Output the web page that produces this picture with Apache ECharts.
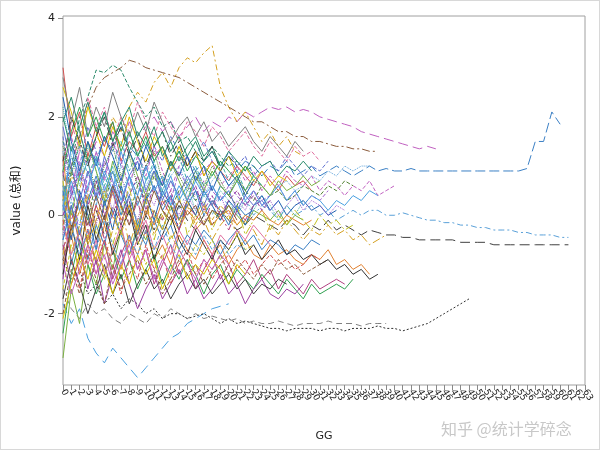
<!DOCTYPE html>
<html>
<head>
<meta charset="utf-8">
<script src="https://cdn.jsdelivr.net/npm/echarts@6/dist/echarts.min.js"></script>
<style>
  html, body { margin: 0; padding: 0; background: #fff; }
  #chart { width: 598px; height: 448px; border: 1px solid #d8d8d8; }
</style>
</head>
<body>
<div id="chart"></div>
<script>
// GG categories 0..63
const categories = Array.from({ length: 64 }, (_, i) => String(i))
const yTicks = [-2, 0, 2, 4]

// 各線の値 (画像から目測)
const s01 = [0.4,1.2,0.8,1.5,1.1,1.6,1.3,1.8,1.4,1.2,1.5,1.1,1.4,1.0,1.3,1.2,0.9,1.1,1.3,1.0,1.2,0.9,1.1,1.0,0.8,1.0,0.9,1.1,0.8,0.9,1.0,0.8,0.9,1.0,0.9,0.8,0.9,1.0,0.9,0.95,0.9,0.9,0.95,0.9,0.9,0.9,0.9,0.9,0.9,0.9,0.9,0.9,0.9,0.9,0.9,0.9,0.95,1.5,1.5,2.1,1.85]
const s02 = [-0.5,0.3,-0.2,0.6,0.2,0.8,0.4,0.1,0.5,0.7,0.3,0.6,0.2,0.4,0.1,0.5,0.3,0.2,0.0,0.4,0.2,0.1,0.3,0.0,0.2,0.1,-0.1,0.2,0.0,0.1,0.2,0.0,0.1,-0.1,0.0,0.1,0.0,0.1,0.1,0.0,0.0,0.05,0.0,-0.05,-0.1,-0.1,-0.15,-0.15,-0.2,-0.2,-0.25,-0.25,-0.3,-0.3,-0.3,-0.35,-0.35,-0.4,-0.4,-0.4,-0.45,-0.45]
const s03 = [0.9,-0.3,0.4,-0.6,0.1,-0.4,0.2,-0.2,0.3,-0.5,0.0,-0.3,0.1,-0.2,0.2,-0.1,-0.3,0.0,-0.2,0.1,-0.1,-0.3,-0.2,0.0,-0.1,-0.2,-0.3,-0.1,-0.2,-0.4,-0.2,-0.3,-0.1,-0.3,-0.2,-0.3,-0.4,-0.3,-0.35,-0.4,-0.4,-0.45,-0.45,-0.5,-0.5,-0.5,-0.5,-0.5,-0.55,-0.55,-0.55,-0.55,-0.6,-0.6,-0.6,-0.6,-0.6,-0.6,-0.6,-0.6,-0.6,-0.6]
const s04 = [1.1,0.5,1.3,1.0,1.5,1.2,1.7,1.4,1.9,1.6,1.8,2.0,1.7,1.9,1.6,1.8,2.0,1.7,1.9,1.8,2.0,1.9,2.1,2.0,2.1,2.2,2.15,2.2,2.1,2.15,2.1,2.0,1.95,1.9,1.85,1.8,1.7,1.65,1.6,1.55,1.5,1.45,1.4,1.35,1.4,1.35]
const s05 = [-0.2,0.8,0.5,1.2,1.6,1.4,2.0,1.7,2.2,2.5,2.3,2.7,2.9,2.6,3.0,3.2,3.1,3.3,3.45,2.6,2.2,1.9,2.1,1.8,1.5,1.7,1.4,1.6,1.3,1.2]
const s06 = [1.5,0.9,2.0,2.4,2.95,2.9,3.05,2.95,2.6,2.3,2.0,2.2,1.8,1.9,1.5,1.6,1.3,1.1,1.4,1.2,1.0,1.1,0.9,1.0,0.8]
const s07 = [0.3,1.0,1.6,2.2,2.6,2.8,2.9,3.0,3.15,3.1,3.0,2.95,2.9,2.85,2.8,2.7,2.6,2.5,2.4,2.3,2.2,2.1,2.0,1.9,1.9,1.8,1.7,1.7,1.6,1.6,1.5,1.5,1.45,1.4,1.4,1.35,1.35,1.3,1.3]
const s08 = [-1.8,-2.2,-1.9,-2.5,-2.8,-3.0,-2.7,-2.9,-3.1,-3.3,-3.1,-2.9,-2.7,-2.5,-2.4,-2.2,-2.1,-2.0,-1.9,-1.85,-1.8]
const s09 = [-0.9,-1.3,-1.1,-1.6,-1.4,-1.8,-1.6,-1.9,-1.7,-1.8,-2.0,-1.9,-2.1,-2.0,-2.0,-2.1,-2.05,-2.0,-2.1,-2.2,-2.1,-2.2,-2.15,-2.2,-2.25,-2.3,-2.3,-2.35,-2.3,-2.3,-2.3,-2.35,-2.3,-2.3,-2.35,-2.3,-2.3,-2.3,-2.25,-2.3,-2.3,-2.35,-2.3,-2.25,-2.2,-2.1,-2.0,-1.9,-1.8,-1.7]
const s10 = [-1.5,-1.9,-2.1,-1.8,-2.0,-1.9,-2.1,-2.2,-2.0,-2.1,-2.2,-2.0,-2.1,-1.9,-2.0,-2.1,-2.0,-2.1,-2.05,-2.1,-2.15,-2.1,-2.2,-2.15,-2.2,-2.2,-2.15,-2.2,-2.25,-2.2,-2.2,-2.2,-2.15,-2.2,-2.2,-2.2,-2.25,-2.2,-2.2,-2.2]
const s11 = [3.0,1.6,2.1,1.2,1.8,1.4,1.9,1.1,1.5,1.3,1.7,1.2,1.4,0.9,1.2,1.0,1.3,0.8,1.1,0.9,0.7,1.0,0.8,0.6,0.9,0.7,0.5,0.8,0.6,0.7,0.5]
const s12 = [-2.9,-1.5,-2.2,-1.0,-1.4,-0.6,-1.1,-0.3,-0.8,-0.2,-0.5,0.1,-0.3,0.2,-0.1,0.3,0.0,-0.2,0.1,-0.1,0.2,0.0,-0.2,0.1,0.0,-0.1,0.1,-0.2,0.0,-0.1]
const s13 = [0.0,0.6,-0.4,0.9,0.3,1.1,0.6,0.2,0.8,0.4,1.0,0.5,0.7,0.3,0.9,0.6,0.4,0.7,0.5,0.3,0.6,0.4,0.2,0.5,0.3,0.4,0.6,0.3,0.5,0.2,0.4,0.3,0.5]
const s14 = [-1.0,-0.4,-1.2,-0.6,-0.9,-0.2,-0.7,-1.1,-0.5,-0.8,-0.3,-0.9,-0.6,-1.0,-0.4,-0.7,-0.9,-0.5,-0.8,-0.6,-1.0,-0.7,-0.5,-0.8,-0.9,-0.6,-0.8,-0.7,-0.9,-1.0,-0.8,-0.9,-0.7,-1.0,-0.9,-1.1,-1.0,-1.2]
const s15 = [2.2,1.2,0.6,1.4,0.9,0.4,1.0,0.5,0.8,0.2,0.6,0.9,0.4,0.7,0.3,0.6,0.1,0.4,0.2,0.5,0.3,0.0,0.3,0.1,0.4,0.2,-0.1,0.2,0.0,0.3]
const s16 = [-0.6,-1.4,-0.9,-0.3,-1.0,-0.5,-1.3,-0.8,-0.4,-1.1,-0.7,-1.4,-1.0,-0.6,-1.2,-0.9,-1.5,-1.1,-0.8,-1.3,-1.0,-1.4,-1.2,-0.9,-1.3,-1.1,-1.5,-1.2,-1.4,-1.6,-1.3,-1.5,-1.4,-1.3,-1.4]
const s17 = [1.6,0.4,1.0,1.8,1.3,0.8,1.5,1.0,1.7,1.2,0.9,1.4,1.1,1.6,1.3,1.0,1.2,1.5,1.1,0.9,1.3,1.0,1.2,0.8,1.0,1.1,0.9,1.2,1.0,0.8,1.0,0.9,1.1]
const s18 = [0.7,-0.8,-0.2,0.5,-0.4,0.2,-0.6,0.0,0.6,-0.3,0.3,-0.5,0.1,-0.2,0.4,-0.4,0.0,0.3,-0.3,0.1,-0.1,0.2,-0.4,-0.1,0.1,-0.3,0.0,-0.2,0.1,-0.1,-0.3,0.0,-0.2,-0.1,-0.3,-0.2]
const s19 = [-2.4,-1.2,-0.5,-1.0,-1.6,-1.2,-0.7,-1.3,-0.9,-1.5,-1.1,-0.8,-1.4,-1.0,-1.3,-0.9,-1.2,-1.6,-1.2,-1.0,-1.4,-1.1,-1.3,-1.5,-1.2,-1.4,-1.6,-1.3,-1.5,-1.7,-1.4,-1.6,-1.5,-1.4,-1.5,-1.3]
const s20 = [1.0,1.9,1.3,2.4,1.8,2.2,1.5,2.0,1.7,2.3,1.9,1.6,2.1,1.8,1.5,1.9,1.7,1.4,1.8,1.6,1.3,1.5,1.7,1.4,1.2,1.5,1.3,1.1,1.4,1.2,1.3,1.1]
const s21 = [0.2,-0.5,0.5,0.0,-0.7,0.3,-0.3,0.6,0.1,-0.4,0.4,-0.1,0.5,0.2,-0.3,0.3,0.0,0.5,0.2,-0.1,0.3,0.1,-0.2,0.2,0.4,0.1,0.3,0.0,0.2,0.3,0.1,0.2,0.0,0.1]
const s22 = [-1.3,0.2,-0.6,-1.5,-0.9,-1.8,-1.2,-0.7,-1.4,-1.9,-1.5,-1.2,-1.7,-1.4,-1.1,-1.6,-1.3,-1.7,-1.5,-1.2,-1.6,-1.4,-1.8,-1.5,-1.3,-1.6,-1.7,-1.5,-1.6,-1.4]
const s23 = [2.6,2.1,1.4,2.2,1.7,1.2,1.8,1.4,2.0,1.5,1.1,1.6,1.3,0.9,1.4,1.0,1.3,0.8,1.1,0.9,1.2,0.8,1.0,0.7,0.9,0.6,0.8,0.7]
const s24 = [-0.3,0.9,0.4,-0.1,0.7,0.2,0.9,0.5,0.0,0.6,0.3,0.8,0.4,0.1,0.5,0.7,0.3,0.5,0.2,0.6,0.4,0.2,0.5,0.3,0.6,0.4,0.5,0.3,0.4,0.6,0.5,0.4,0.6,0.5,0.7,0.6]
const s25 = [0.5,-1.0,-0.3,-0.9,-0.2,-0.6,0.1,-0.4,-0.8,-0.3,-0.6,-0.1,-0.5,-0.2,-0.7,-0.4,-0.6,-0.3,-0.5,-0.8,-0.5,-0.3,-0.6,-0.4,-0.7,-0.5,-0.6,-0.8,-0.6,-0.7,-0.5,-0.6]
const s26 = [1.3,0.3,0.9,0.5,1.2,0.8,0.4,1.0,0.6,1.1,0.7,0.9,0.5,0.8,1.0,0.6,0.8,0.4,0.7,0.9,0.6,0.7,0.5,0.8,0.6,0.4,0.6,0.7,0.5,0.6,0.8,0.7,0.9,0.8,1.0,0.9,1.0,1.0]
const s27 = [-1.7,-0.9,-1.4,-2.0,-1.5,-1.0,-1.6,-1.2,-1.8,-1.4,-1.1,-1.5,-1.3,-1.7,-1.4,-1.2,-1.5,-1.3,-1.6,-1.4,-1.2,-1.5,-1.3,-1.6,-1.4,-1.5,-1.3,-1.4]
const s28 = [0.8,1.6,1.0,0.5,1.3,0.7,1.5,1.1,0.6,1.2,0.8,1.4,0.9,0.5,1.0,1.2,0.7,0.9,1.1,0.6,0.8,1.0,0.7,0.9,0.5,0.8,0.6,0.9,0.7,0.6,0.8,0.5,0.7,0.6,0.4,0.6,0.5,0.7,0.4,0.5,0.6]
const s29 = [-0.8,0.1,-0.5,0.4,-0.2,-0.9,-0.3,0.2,-0.6,-0.1,0.3,-0.4,0.0,-0.5,-0.2,0.2,-0.3,-0.1,-0.5,-0.2,0.0,-0.4,-0.1,-0.3,-0.6,-0.2,-0.4,-0.1,-0.3,-0.5,-0.3,-0.4,-0.2,-0.4,-0.3,-0.5,-0.4,-0.6,-0.5,-0.4]
const s30 = [1.9,2.4,1.7,1.1,1.6,2.1,1.5,1.9,1.3,1.7,1.4,1.8,1.2,1.5,1.1,1.4,1.6,1.2,1.4,1.0,1.3,1.1,0.9,1.2,1.0,1.1,0.8,1.0,0.9,1.1,0.9]
const s31 = [-2.0,-1.1,-1.6,-0.8,-1.3,-1.8,-1.0,-1.5,-1.2,-0.9,-1.4,-1.1,-1.6,-1.3,-0.9,-1.2,-1.0,-1.4,-1.1,-0.8,-1.2,-0.9,-1.1,-1.3,-1.0,-1.2,-0.9,-1.1,-1.0,-1.2,-1.1,-1.0,-0.9]
const s32 = [0.1,1.4,0.7,1.1,0.3,0.9,0.5,1.3,0.8,0.2,0.7,1.0,0.4,0.8,0.3,0.6,0.9,0.5,0.2,0.6,0.4,0.7,0.3,0.5,0.2,0.4,0.6,0.3,0.5,0.2,0.4,0.3,0.1,0.3,0.2,0.4,0.3,0.5,0.4]
const s33 = [-1.2,-0.2,-0.9,0.2,-0.5,0.0,-0.8,-0.3,0.1,-0.6,-0.2,-0.9,-0.4,0.0,-0.5,-0.8,-0.3,-0.6,-0.9,-0.5,-0.7,-0.4,-0.8,-0.6,-0.9,-0.7,-0.5,-0.8,-0.7,-0.9,-0.8,-1.0,-0.9,-1.1,-1.0,-1.2,-1.1,-1.3,-1.2]
const s34 = [2.8,1.9,2.6,1.6,2.2,1.8,2.5,2.0,1.6,2.1,1.7,2.3,1.9,1.5,1.8,2.0,1.6,1.9,1.5,1.7,1.4,1.6,1.8,1.5,1.3,1.6,1.4,1.2,1.5,1.3]
const s35 = [-0.1,-0.9,-1.5,-0.7,-1.2,-0.5,-1.0,-1.6,-0.9,-1.3,-0.6,-1.1,-0.8,-1.4,-1.0,-0.7,-1.2,-0.9,-1.3,-1.0,-0.8,-1.1,-0.9,-1.2,-1.0,-0.8,-1.0,-0.9,-1.1,-1.0,-0.8,-0.9]
const s36 = [0.6,0.0,0.8,1.5,0.9,0.3,1.1,0.6,1.3,0.8,0.4,0.9,0.6,1.1,0.7,0.3,0.8,0.5,0.9,0.6,0.4,0.7,0.5,0.8,0.6,0.4,0.7,0.5,0.6,0.8,0.6,0.7]
const s37 = [-0.4,0.5,1.1,0.4,-0.2,0.6,0.1,0.8,0.3,-0.1,0.5,0.2,0.7,0.3,0.0,0.4,0.1,0.6,0.2,0.4,0.0,0.3,0.1,0.5,0.2,0.3,0.0,0.2,0.4,0.1,0.3,0.2,0.0,0.2,0.1]
const s38 = [1.2,-0.3,0.3,-0.5,0.2,-0.2,0.5,-0.1,0.2,-0.4,0.1,-0.2,0.3,0.0,-0.3,0.1,-0.1,0.2,-0.2,0.0,0.1,-0.2,0.0,-0.1,0.1,-0.1,-0.2,0.0,-0.1,-0.2,-0.1]
const s39 = [0.3,0.9,1.4,0.8,1.2,0.6,1.0,1.5,0.9,1.3,0.7,1.1,0.5,0.9,1.2,0.7,1.0,0.6,0.8,1.1,0.7,0.9,0.5,0.8,0.6]
const s40 = [-0.7,-0.1,0.4,-0.3,0.2,-0.5,0.0,0.5,-0.2,0.3,-0.4,0.1,-0.1,0.4,-0.3,0.2,0.0,-0.2,0.3,0.0,-0.3,0.1,-0.1,0.2]
const s41 = [1.8,1.0,0.3,0.9,0.4,1.2,0.7,0.2,0.8,1.1,0.5,0.9,0.3,0.7,0.4,0.8,0.5,0.2,0.6,0.3,0.5,0.1,0.4,0.2,0.3,0.1,0.3]
const s42 = [-1.5,-0.6,-1.0,-0.4,-0.9,-1.3,-0.7,-0.3,-0.8,-0.5,-1.0,-0.6,-0.9,-0.4,-0.7,-1.0,-0.6,-0.8,-0.5,-0.9,-0.7,-0.4,-0.7,-0.6]
const s43 = [0.9,1.7,2.2,1.6,2.0,1.5,1.9,1.3,1.7,1.2,1.6,1.1,1.4,1.0,1.3,0.9,1.2,1.0,0.8,1.1,0.9,0.7,1.0,0.8]
const s44 = [-0.2,-0.8,-0.3,-1.0,-0.5,-1.2,-0.7,-0.2,-0.9,-0.5,-0.1,-0.7,-0.4,-0.8,-0.3,-0.6,-0.2,-0.5,-0.8,-0.4,-0.6,-0.3,-0.5,-0.2,-0.4,-0.6]
const s45 = [2.4,1.5,0.9,1.5,1.0,1.6,1.2,0.7,1.3,0.9,1.4,1.0,0.6,1.1,0.8,1.2,0.7,1.0,0.5,0.9,0.6,0.8,0.4,0.7]
const s46 = [0.0,0.4,0.9,0.2,0.7,0.0,0.5,-0.2,0.4,0.8,0.1,0.6,0.2,0.5,-0.1,0.3,0.6,0.1,0.4,0.0,0.3,0.5,0.2,0.4,0.1,0.3]
const s47 = [-2.1,-1.4,-0.8,-1.3,-0.7,-1.1,-1.6,-1.0,-1.4,-0.8,-1.2,-0.9,-1.5,-1.1,-0.8,-1.3,-1.0,-1.2,-0.9,-1.1,-1.4,-1.0,-1.2]
const s48 = [1.4,0.8,1.5,1.1,0.5,1.0,1.4,0.8,1.2,0.6,1.0,1.3,0.7,1.1,0.8,0.5,0.9,0.6,1.0,0.7,0.4,0.8,0.5,0.7,0.6]
const s49 = [-0.5,0.2,-0.4,0.3,0.8,0.2,0.6,0.0,0.4,-0.2,0.3,0.6,0.1,0.4,-0.1,0.2,0.5,0.0,0.3,0.1,-0.2,0.2,0.0,0.1]
const s50 = [0.6,-0.2,-0.8,-0.3,-0.7,-0.1,-0.6,-1.0,-0.4,-0.8,-0.3,-0.7,-0.2,-0.6,-0.9,-0.5,-0.8,-0.4,-0.7,-0.5,-0.8,-0.6,-0.7]
const s51 = [1.1,2.0,1.5,1.0,1.6,2.0,1.4,1.8,1.2,1.6,1.0,1.4,1.7,1.2,1.5,1.0,1.3,1.1,1.4,0.9,1.2,1.0]
const s52 = [-1.0,-1.6,-1.1,-0.6,-1.2,-0.8,-1.4,-1.0,-0.6,-1.1,-0.7,-1.3,-0.9,-1.2,-0.7,-1.0,-1.3,-0.9,-1.1,-0.8,-1.0]
const s53 = [0.4,-0.4,0.1,-0.6,-0.1,0.5,0.0,-0.4,0.2,-0.3,0.4,0.0,-0.3,0.2,-0.1,0.3,-0.2,0.1,-0.1,0.2,0.0,-0.2,0.0]
const s54 = [2.0,1.3,1.8,2.3,1.7,2.1,1.5,1.9,2.2,1.6,1.9,1.4,1.7,1.3,1.6,1.2,1.5,1.1,1.3,1.0]
const s55 = [-0.9,-0.3,0.3,-0.2,0.4,-0.1,0.6,0.2,-0.2,0.4,0.0,0.5,0.1,-0.1,0.3,0.0,0.2,-0.2,0.1,0.0,0.2,-0.1]
const s56 = [0.2,0.7,0.1,0.6,1.1,0.5,0.9,0.3,0.8,0.4,1.0,0.5,0.8,0.2,0.6,0.3,0.7,0.4,0.6,0.3,0.5]
const lineValues = [s01,s02,s03,s04,s05,s06,s07,s08,s09,s10,s11,s12,s13,s14,s15,s16,s17,s18,s19,s20,
  s21,s22,s23,s24,s25,s26,s27,s28,s29,s30,s31,s32,s33,s34,s35,s36,s37,s38,s39,s40,
  s41,s42,s43,s44,s45,s46,s47,s48,s49,s50,s51,s52,s53,s54,s55,s56]

const palette = ['#3a7fc4','#5aa0d8','#404040','#c060c0','#d4a020','#2a8a6a','#8a5a3a','#4aa0e0','#303030','#808080',
  '#d05050','#7ab040','#a060d0','#e08030','#40b0b0','#b04080','#6070d0','#c0c020','#30a050','#e070a0',
  '#2060b0','#9a40a0','#d8c000','#508030']
const dashes = ['solid','dashed','solid','dotted','solid','dashed',[8,3,2,3],'solid','dashed','solid','solid']
const fixedDash = { 0: [10,4], 1: [6,3,2,3], 2: [10,5], 3: [10,5], 4: [6,3,2,3], 7: [10,6], 8: [2,2], 9: [6,4] }

let myChart = echarts.init(document.getElementById('chart'))
myChart.setOption({
  animation: false,
  grid: { left: 62, right: 14, top: 15, bottom: 64, show: true, borderColor: '#a0a0a0', borderWidth: 1 },
  xAxis: {
    type: 'category',
    data: categories,
    boundaryGap: false,
    name: 'GG',
    nameLocation: 'middle',
    nameGap: 46,
    nameTextStyle: { fontFamily: 'DejaVu Sans', fontSize: 11, color: '#222' },
    axisLine: { show: false, onZero: false },
    axisTick: { alignWithLabel: true, lineStyle: { color: '#888' }, length: 5, interval: 0 },
    axisLabel: { interval: 0, rotate: -60, fontSize: 9, color: '#222', margin: 5, fontFamily: 'DejaVu Sans' },
    splitLine: { show: false }
  },
  yAxis: {
    type: 'value',
    min: -3.45,
    max: 4.05,
    name: 'value (总和)',
    nameLocation: 'middle',
    nameGap: 40,
    nameTextStyle: { fontFamily: 'DejaVu Sans, Noto Sans CJK SC', fontSize: 12, color: '#222' },
    axisLine: { show: false },
    axisTick: { show: true, customValues: yTicks, lineStyle: { color: '#888' }, length: 5 },
    axisLabel: { customValues: yTicks, fontSize: 11, color: '#222', fontFamily: 'DejaVu Sans' },
    splitLine: { show: false }
  },
  graphic: [{
    type: 'text', left: 440, top: 420,
    style: { text: '知乎 @统计学碎念', fontSize: 16, fill: '#c8c8c8', fontFamily: 'Noto Sans CJK SC' }
  }],
  series: lineValues.map((vals, i) => ({
    type: 'line',
    data: vals,
    symbol: 'none',
    lineStyle: {
      width: 1,
      color: palette[i % palette.length],
      type: fixedDash[i] || dashes[i % dashes.length]
    }
  }))
})
</script>
</body>
</html>
